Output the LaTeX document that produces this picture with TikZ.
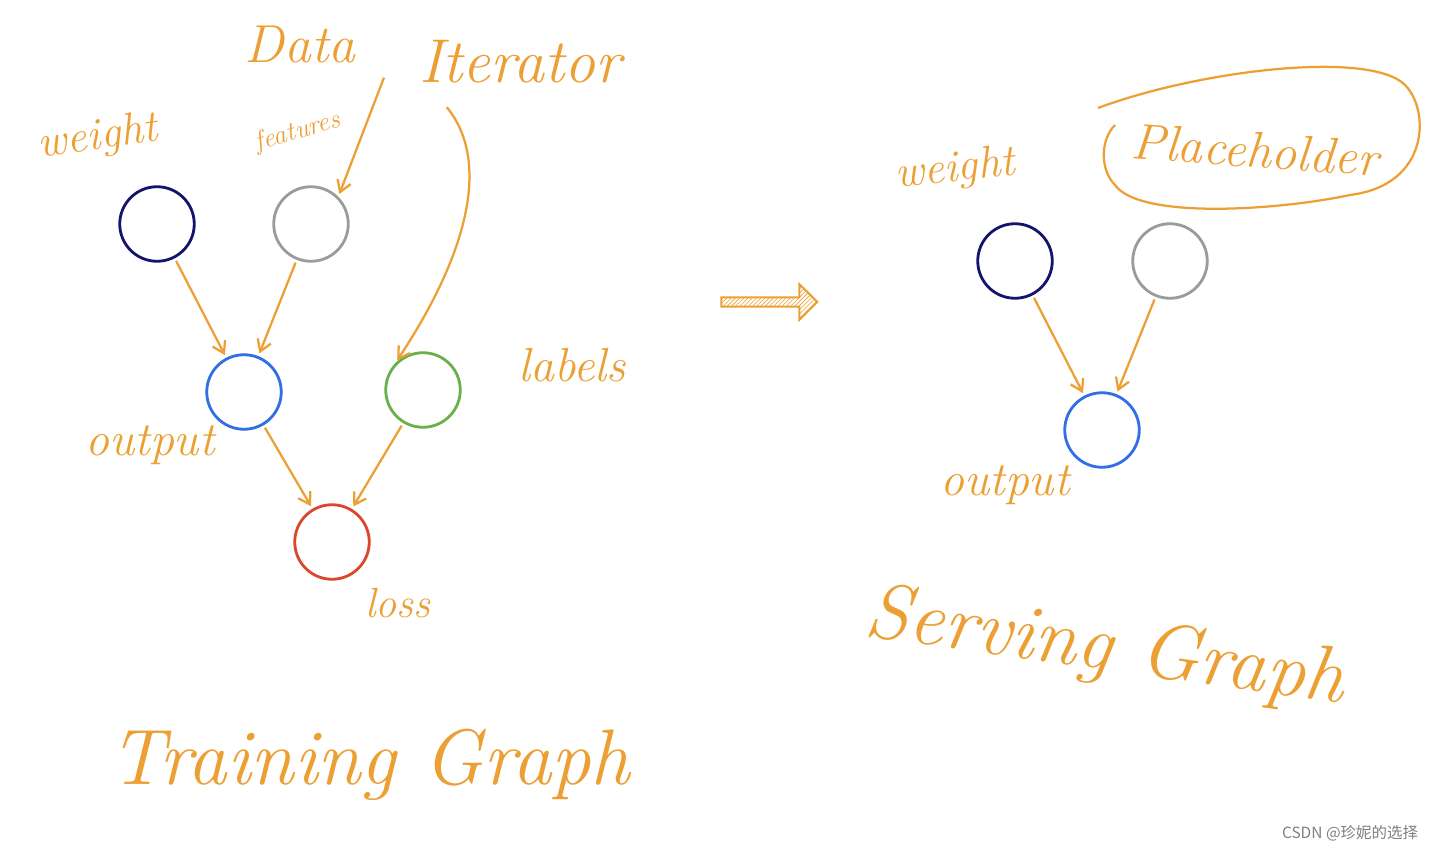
\documentclass[tikz,border=0pt]{standalone}
\usepackage{fontspec}
\newfontfamily\cjk{Noto Sans CJK SC}
\usetikzlibrary{arrows.meta,shapes.arrows,patterns}
\definecolor{org}{RGB}{236,160,52}
\definecolor{navy}{RGB}{20,20,110}
\definecolor{gr}{RGB}{155,155,155}
\definecolor{bl}{RGB}{50,110,230}
\definecolor{gn}{RGB}{105,175,75}
\definecolor{rd}{RGB}{220,70,45}
\tikzset{
 circ/.style={circle,draw=#1,line width=2pt,minimum size=53pt,inner sep=0},
 con/.style={draw=org,line width=1.6pt,-{Straight Barb[length=8pt,width=10pt]},shorten >=2pt,shorten <=2pt},
 hand/.style={text=org,font=\itshape\fontsize{#1}{#1}\selectfont},
}
\begin{document}
\begin{tikzpicture}[x=0.025cm,y=-0.025cm]
\useasboundingbox[fill=white] (0,0) rectangle (1440,852);
% training graph
\node[circ=navy] (w) at (157,224) {};
\node[circ=gr] (f) at (311,224) {};
\node[circ=bl] (o) at (244,392) {};
\node[circ=gn] (l) at (423,390) {};
\node[circ=rd] (ls) at (332,542) {};
\draw[con] (w) -- (o);
\draw[con] (f) -- (o);
\draw[con] (o) -- (ls);
\draw[con] (l) -- (ls);
\node[hand=38pt] (data) at (300,45) {Data};
\node[hand=44pt] (iter) at (520,62) {Iterator};
\node[hand=32pt,rotate=8] (wl) at (98,138) {weight};
\node[hand=19pt,rotate=16,inner sep=0] (fl) at (298,132) {features};
\node[hand=34pt] (ll) at (572,365) {labels};
\node[hand=34pt] (ol) at (150,445) {output};
\node[hand=30pt] (lsl) at (398,603) {loss};
\node[hand=56pt] (tg) at (370,765) {Training Graph};
\coordinate (a1) at (385,75);
\coordinate (a2) at (445,105);
\draw[con] (a1) -- (f.north east);
\draw[con] (a2) .. controls (490,160) and (470,250) .. (l.north west);
% arrow
\node[single arrow,draw=org,line width=1.4pt,pattern=north east lines,pattern color=org,minimum height=2.4cm,single arrow head extend=2pt,minimum width=0.9cm,inner sep=0] (ar) at (767,302) {};
% serving graph
\node[circ=navy] (sw) at (1015,261) {};
\node[circ=gr] (sp) at (1170,261) {};
\node[circ=bl] (so) at (1102,430) {};
\draw[con] (sw) -- (so);
\draw[con] (sp) -- (so);
\node[hand=32pt,rotate=6] (swl) at (955,170) {weight};
\node[hand=36pt,rotate=-4] (spl) at (1255,150) {Placeholder};
\draw[org,line width=1.6pt] (1115,125) .. controls (1100,140) and (1100,170) .. (1115,185)
  .. controls (1140,220) and (1280,210) .. (1350,195)
  .. controls (1430,185) and (1430,110) .. (1405,85)
  .. controls (1370,50) and (1200,70) .. (1098,108);
\node[hand=34pt] (sol) at (1005,485) {output};
\node[hand=56pt,rotate=-8] (sg) at (1105,650) {Serving Graph};
\node[text=gray,font=\cjk\fontsize{11pt}{11pt}\selectfont] (wm) at (1350,833) {CSDN @珍妮的选择};
\end{tikzpicture}
\end{document}
